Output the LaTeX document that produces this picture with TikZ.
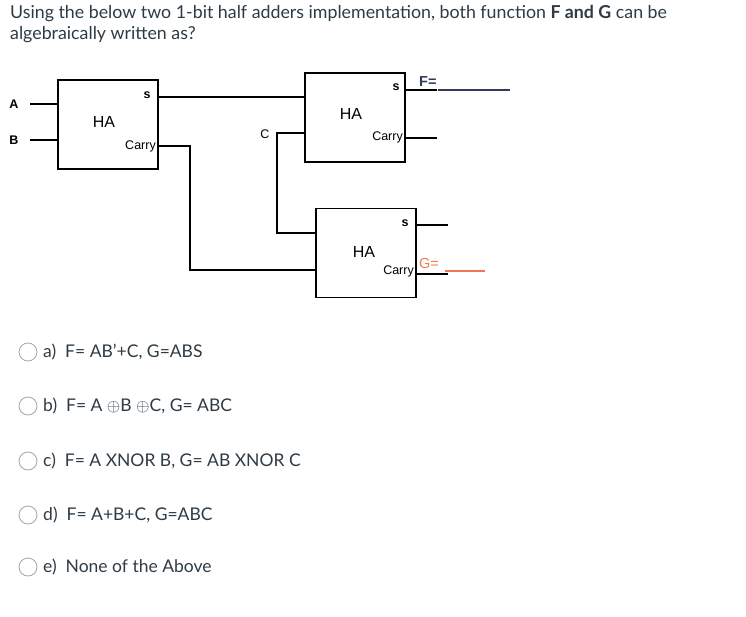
\documentclass[tikz,border=0pt]{standalone}
\usepackage{fontspec}
\setmainfont{Lato}
\newfontfamily\arialf{Liberation Sans}
\definecolor{txt}{RGB}{45,59,69}
\definecolor{org}{RGB}{240,120,80}
\definecolor{fblue}{RGB}{50,60,90}
\begin{document}
\begin{tikzpicture}[x=1pt,y=-1pt,
  ha/.style={draw,line width=1.1pt,minimum width=100pt,minimum height=89pt,inner sep=0pt},
  lab/.style={font=\arialf\fontsize{12.5}{14}\selectfont,inner sep=1pt},
  halab/.style={font=\arialf\fontsize{16}{18}\selectfont,inner sep=0pt},
  w/.style={line width=1.1pt},
  q/.style={font=\fontsize{17.5}{21}\selectfont,text=txt,anchor=west,inner sep=0pt},
  rad/.style={draw=gray!70,line width=0.8pt,circle,minimum size=18pt,inner sep=0pt}]
\useasboundingbox (0,0) rectangle (746,617);
\node[q,anchor=north west,align=left,font=\fontsize{17.8}{21}\selectfont] (qt) at (10,5) {Using the below two 1-bit half adders implementation, both function \textbf{F and G} can be\\algebraically written as?};
% boxes
\node[ha] (h1) at (108,124.5) {};
\node[ha] (h2) at (355,117.5) {};
\node[ha] (h3) at (366,253) {};
\node[halab] (t1) at (104,122) {HA};
\node[halab] (t2) at (351,114) {HA};
\node[halab] (t3) at (364,252) {HA};
\node[lab] (a) at (14,104) {\textbf{A}};
\node[lab] (b) at (14,140) {\textbf{B}};
\node[lab] (c) at (265,134) {C};
\node[lab] (s1) at (147,95) {\textbf{s}};
\node[lab] (s2) at (396,87) {\textbf{s}};
\node[lab] (s3) at (405,223) {\textbf{s}};
\node[lab,anchor=east] (c1) at (157,146) {Carry};
\node[lab,anchor=east] (c2) at (404,137) {Carry};
\node[lab,anchor=east] (c3) at (415,271) {Carry};
\coordinate (ai) at (30,104); \coordinate (bi) at (30,140);
\draw[w] (ai) -- (h1.west|-ai);
\draw[w] (bi) -- (h1.west|-bi);
\coordinate (ci) at (277,133);
\draw[w] (h1.east|-97,97) -- (h2.west|-97,97);
\draw[w] (h1.east|-146,146) -- (190,146) -- (190,270) -- (h3.west|-270,270);
\draw[w] (h2.west|-ci) -- (ci) -- (277,233) -- (h3.west|-233,233);
\coordinate (fo) at (437,90); \coordinate (co2) at (437,138);
\coordinate (so3) at (448,225); \coordinate (go) at (448,274);
\draw[w] (h2.east|-fo) -- (fo);
\draw[w] (h2.east|-co2) -- (co2);
\draw[w] (h3.east|-so3) -- (so3);
\draw[w] (h3.east|-go) -- (go);
\node[font=\arialf\fontsize{14.5}{16}\selectfont,text=fblue,inner sep=0pt,anchor=west] (fl) at (419,82) {\textbf{F=}};
\draw[fblue,line width=1.2pt] (438,90) -- (510,90);
\node[font=\arialf\fontsize{14.5}{16}\selectfont,text=org,inner sep=0pt,anchor=west] (gl) at (419,264) {G=};
\draw[org,line width=1.2pt] (445,271) -- (485,271);
% options
\foreach \yy/\tt [count=\i] in {352/{a)\ \ F= AB’+C, G=ABS},406/{b)\ \ F= A $\oplus$B $\oplus$C, G= ABC},461/{c)\ \ F= A XNOR B, G= AB XNOR C},515/{d)\ \ F= A+B+C, G=ABC},567/{e)\ \ None of the Above}}{
  \node[rad] (r\i) at (28,\yy) {};
  \node[q] (o\i) at (43,\yy) {\tt};
}
\end{tikzpicture}
\end{document}
